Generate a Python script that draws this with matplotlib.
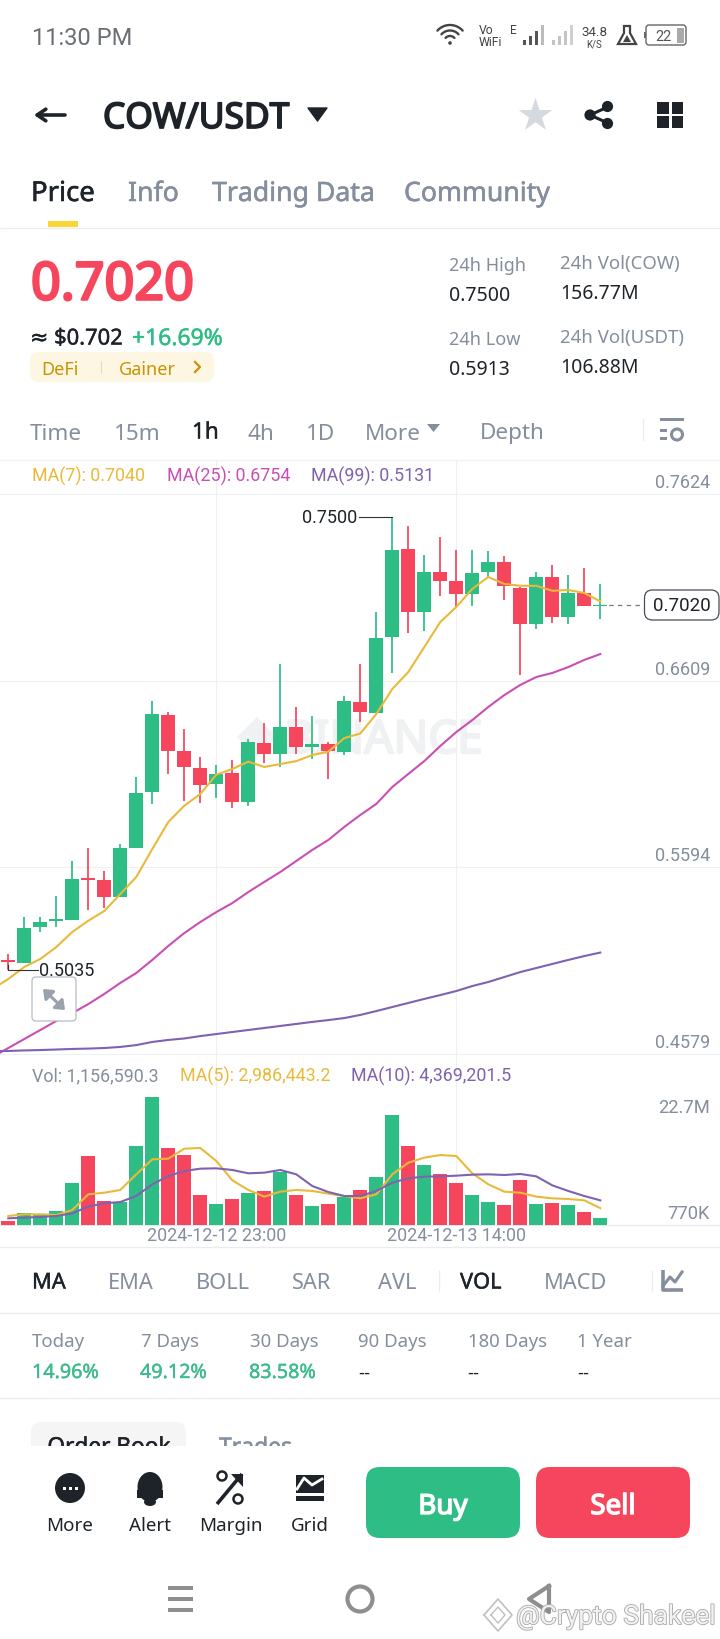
import numpy as np
import matplotlib
matplotlib.use('Agg')
import matplotlib.pyplot as plt
from matplotlib.patches import FancyBboxPatch, Rectangle, Polygon, Circle, Ellipse
import matplotlib.patheffects as pe

# ---------- data ----------
opens = [.5091,.5074,.5270,.5301,.5308,.5536,.5524,.5431,.5701,.6002,.6424,.6228,.6134,.6046,.6106,.5951,.6272,.6210,.6356,
         .6247,.6263,.6223,.6495,.6433,.6845,.7323,.6984,.7200,.7151,.7079,.7198,.7256,.7113,.6917,.7173,.6954,.7087,.7017]
highs = [.5123,.5326,.5324,.5439,.5630,.5700,.5574,.5721,.6087,.6497,.6437,.6345,.6193,.6151,.6180,.6294,.6379,.6698,.6468,
         .6417,.6274,.6524,.6698,.6981,.7500,.7450,.7292,.7390,.7321,.7321,.7316,.7285,.7118,.7200,.7238,.7182,.7220,.7133]
lows = [.5035,.5074,.5243,.5272,.5308,.5364,.5373,.5431,.5698,.5939,.6103,.5957,.5944,.5971,.5915,.5926,.6163,.6141,.6209,
        .6185,.6075,.6203,.6383,.6433,.6649,.6870,.6881,.7071,.7011,.7017,.7173,.7049,.6638,.6890,.6923,.6917,.7015,.6944]
closes = [.5080,.5266,.5299,.5312,.5531,.5526,.5431,.5698,.5998,.6430,.6228,.6141,.6044,.6103,.5951,.6276,.6210,.6356,.6247,
          .6263,.6225,.6497,.6437,.6840,.7318,.6984,.7200,.7151,.7079,.7194,.7253,.7122,.6917,.7171,.6957,.7086,.7015,.7020]
# moving averages: first value belongs to the candle just left of the visible window
ma7 = [.4933,.4987,.5053,.5096,.5161,.5243,.5304,.5357,.5449,.5542,.5694,.5841,.5929,.5993,.6098,.6129,.6169,.6140,.6156,
       .6172,.6205,.6223,.6297,.6322,.6428,.6564,.6656,.6792,.6928,.7010,.7108,.7173,.7135,.7125,.7125,.7098,.7102,.7086,.7040]
ma25 = [.4563,.4612,.4661,.4710,.4759,.4802,.4851,.4906,.4966,.5020,.5091,.5167,.5237,.5297,.5351,.5400,.5460,.5515,.5569,.5629,
        .5689,.5743,.5814,.5879,.5939,.6031,.6102,.6172,.6254,.6330,.6395,.6466,.6531,.6586,.6629,.6651,.6683,.6722,.6754]
ma99 = [.4596,.4596,.4599,.4601,.4604,.4607,.4609,.4612,.4618,.4628,.4645,.4656,.4664,.4677,.4688,.4699,.4710,.4721,.4732,.4743,
        .4754,.4764,.4775,.4792,.4813,.4835,.4857,.4879,.4900,.4922,.4949,.4971,.4998,.5025,.5047,.5069,.5091,.5112,.5131]
volumes = [.71,2.18,1.71,2.48,7.38,12.27,4.25,4.07,14.04,22.7,13.63,12.33,5.25,3.72,4.66,5.60,5.96,9.44,5.25,
           3.42,3.66,4.96,6.20,8.44,19.53,13.92,10.62,9.09,7.43,5.31,4.13,3.60,7.91,3.72,3.95,3.48,2.36,1.157]
vol_ma5 = [1.59,1.89,1.89,1.77,2.66,5.43,5.72,6.20,8.97,11.62,11.74,13.51,13.63,11.33,7.91,6.20,5.02,5.90,6.20,
           6.02,5.55,5.13,4.72,5.43,8.97,11.03,11.92,12.39,12.21,9.15,7.20,5.90,5.72,5.02,4.72,4.60,4.37,2.986]
vol_ma10 = [1.18,1.30,1.42,1.59,2.07,3.25,3.84,4.07,5.13,7.20,8.67,9.56,9.97,10.03,9.74,9.15,9.26,9.74,8.97,
            6.90,5.84,5.13,5.13,6.02,7.49,8.26,8.56,8.61,8.73,8.91,8.97,8.85,9.03,8.61,7.02,6.02,5.13,4.369]
price_ticks = [.7624,.6609,.5594,.4579]
price_labels = ['0.7624','0.6609','0.5594','0.4579']
date_idx = [13,28]
date_labels = ['2024-12-12 23:00','2024-12-13 14:00']

GREEN='#2EBD85'; RED='#F6465D'; GRID='#EEF0F2'; GREY='#848E9C'; DARK='#1E2329'
YEL='#E9B93A'; PINK='#C94FB4'; PUR='#7F62B0'
SANS='Noto Sans'; ROB='Roboto'

W,H=720,1640
fig=plt.figure(figsize=(W/100,H/100),dpi=100,facecolor='white')
def rect(x0,y0,x1,y1):
    return [x0/W,1-y1/H,(x1-x0)/W,(y1-y0)/H]

# index <-> pixel scale
xlim=(-8.3/16,(720-8.3)/16)
pp=0.1015/186.7
def price_at(y): return .7624-(y-495)*pp

# watermark, behind the marks
wm=fig.text(284/W,1-742/H,'BINANCE',fontsize=33,color='#F0F1F2',family='Noto Sans',va='center',zorder=0)
wm.set_path_effects([pe.withStroke(linewidth=1.6,foreground='#F0F1F2')])
fig.add_artist(Polygon([(257/W,1-718/H),(277/W,1-738/H),(257/W,1-758/H),(237/W,1-738/H)],closed=True,fc='#F0F1F2',ec='none',transform=fig.transFigure,zorder=0))

# ---------- price panel ----------
ax=fig.add_axes(rect(0,461,720,1060),zorder=1)
ax.patch.set_alpha(0)
ax.set_xlim(*xlim); ax.set_ylim(price_at(1060),price_at(461))
for s in ax.spines.values(): s.set_visible(False)
ax.set_xticks(date_idx); ax.set_yticks(price_ticks)
ax.tick_params(length=0,labelbottom=False,labelleft=False)
ax.grid(True,color=GRID,lw=0.8,zorder=0)
ax.set_axisbelow(True)
idx=np.arange(len(closes))
cols=[GREEN if c>=o else RED for o,c in zip(opens,closes)]
ax.vlines(idx,lows,highs,colors=cols,lw=1.25,zorder=3)
bodies=[max(abs(c-o),0.0006) for o,c in zip(opens,closes)]
ax.bar(idx,bodies,bottom=[min(o,c) for o,c in zip(opens,closes)],width=0.855,color=cols,zorder=3)
ax.plot(np.arange(len(ma7))-1,ma7,color=YEL,lw=1.5,zorder=4)
ax.plot(np.arange(len(ma25))-1,ma25,color=PINK,lw=1.5,zorder=4)
ax.plot(np.arange(len(ma99))-1,ma99,color=PUR,lw=1.5,zorder=4)
for p,l in zip(price_ticks,price_labels):
    ax.annotate(l,(1,p),xycoords=('axes fraction','data'),xytext=(-7.2,8.6),textcoords='offset points',
                ha='right',va='center',fontsize=13,color=GREY,family=ROB)
# high / low markers
ax.plot([21.9,24],[.7500,.7500],color='#333',lw=0.8,zorder=5)
ax.annotate('0.7500',(21.9,.7500),xytext=(-1,0),textcoords='offset points',ha='right',va='center',fontsize=13,color=DARK,family=ROB)
ax.plot([0,0,1.85],[.5061,.5035,.5035],color='#333',lw=0.8,zorder=5)
ax.annotate('0.5035',(1.85,.5035),xytext=(0.5,0),textcoords='offset points',ha='left',va='center',fontsize=13,color=DARK,family=ROB)
# last price dash
ax.plot([37,39.7],[closes[-1],closes[-1]],color='#6f7680',lw=0.9,ls=(0,(3.5,3.5)),zorder=2)

# ---------- volume panel ----------
av=fig.add_axes(rect(0,1055,720,1226),zorder=1)
av.patch.set_alpha(0)
av.set_xlim(*xlim); av.set_ylim(0,171*0.177)
for k,s in av.spines.items(): s.set_visible(k=='bottom')
av.spines['bottom'].set_color('#E6E8EA')
av.set_xticks(date_idx); av.set_xticklabels(date_labels,fontsize=12.85,color=GREY,family=ROB)
av.set_yticks([])
av.tick_params(length=0,pad=1)
av.grid(True,axis='x',color=GRID,lw=0.8); av.set_axisbelow(True)
av.bar(idx,volumes,width=0.855,color=cols,zorder=3)
av.plot(idx,vol_ma5,color=YEL,lw=1.5,zorder=4)
av.plot(idx,vol_ma10,color=PUR,lw=1.5,zorder=4)

# ---------- phone UI overlay (pixel coords) ----------
ui=fig.add_axes([0,0,1,1],zorder=2)
ui.set_xlim(0,W); ui.set_ylim(H,0); ui.axis('off'); ui.patch.set_alpha(0)
def T(x,y,s,size,color=DARK,weight='normal',ha='left',family=SANS,**k):
    if family==SANS and ha=='left':
        x-=1
    t=ui.text(x,y,s,fontsize=size,color=color,ha=ha,va='center',family=family,**k)
    extra={'bold':0.05,'medium':0.02}.get(weight)
    if extra:
        t.set_path_effects([pe.withStroke(linewidth=size*extra,foreground=color)])
    return t
def L(x,y,color='#EAECEF',lw=0.9,**k):
    ui.plot(x,y,color=color,lw=lw,solid_capstyle='butt',**k)
def RR(x0,y0,x1,y1,r,fc,ec='none',lw=0,z=1):
    ui.add_patch(FancyBboxPatch((x0+r,y0+r),x1-x0-2*r,y1-y0-2*r,boxstyle=f'round,pad={r},rounding_size={r}',fc=fc,ec=ec,lw=lw,zorder=z))

# status bar
T(32,38.5,'11:30 PM',17,'#6A6F75',family=ROB)
cx,cy=450,43
t=np.radians(np.linspace(222,318,30))
for r in (6,11.5,17):
    ui.plot(cx+r*np.cos(t),cy+r*np.sin(t),color='#444',lw=1.7,solid_capstyle='round')
ui.add_patch(Circle((cx,cy+1),1.8,fc='#444'))
T(479,31,'Vo',8.8,'#444',ha='left',family=ROB); T(479,43,'WiFi',8.8,'#444',family=ROB)
T(510,31,'E',8.5,'#444',family=ROB)
for x0,c0,c1 in ((523,'#555','#bbb'),(552,'#c4c4c4','#d0d0d0')):
    for i,(hh,c) in enumerate(zip((5,9,14,20),(c0,c0,c0,c1))):
        ui.add_patch(Rectangle((x0+i*6,46-hh),3.2,hh,fc=c,ec='none'))
T(594,33,'34.8',9.6,'#444',ha='center',family=ROB); T(594,44,'K/S',7,'#444',ha='center',family=ROB)
ui.add_patch(Polygon([(624,27),(630,27),(630,34),(636,45),(618,45),(624,34)],closed=True,fc='white',ec='#444',lw=1.6))
ui.add_patch(Polygon([(627,36),(631,43),(623,43)],closed=True,fc='#444',ec='none'))
RR(646,26,686,46,3,'white','#666',1.0)
ui.add_patch(Rectangle((643.5,33),2,6,fc='#666'))
ui.add_patch(Rectangle((677,28.5),7,15,fc='#aaa'))
T(664,37,'22',10.5,'#555',ha='center',family=ROB)

# header
ui.annotate('',xy=(34,116),xytext=(65,116),arrowprops=dict(arrowstyle='->,head_length=0.62,head_width=0.42',lw=2.6,color=DARK,shrinkA=0,shrinkB=0))
T(104,120,'COW/USDT',25.4,DARK,'bold')
ui.add_patch(Polygon([(308,109),(327,109),(317.5,122)],closed=True,fc=DARK,ec=DARK,lw=1,joinstyle='round'))
ui.scatter([535],[116],marker='*',s=650,color='#D5D9E0',linewidths=0,zorder=3)
for a,b in (((610,107),(590,116)),((590,116),(610,125))):
    ui.plot([a[0],b[0]],[a[1],b[1]],color=DARK,lw=2.2)
for c in ((607.5,107.5),(590,116),(607.5,124.5)):
    ui.add_patch(Circle(c,5.6,fc=DARK))
for x0 in (657,671.5):
    for y0 in (103,117):
        ui.add_patch(Rectangle((x0,y0),11.5,12,fc=DARK))

# tabs
T(32,195,'Price',19.8,DARK,'medium')
T(129,195,'Info',19.2,GREY,'medium'); T(213,195,'Trading Data',19.2,GREY,'medium'); T(405,195,'Community',19.2,GREY,'medium')
ui.add_patch(Rectangle((48,222),30,6,fc='#FCD535'))
L([0,720],[228.5,228.5])

# price block
T(32,287,'0.7020',37.5,RED,'bold')
T(30,340,'≈ $0.702',15.8,DARK,'medium',family=['Noto Sans','DejaVu Sans'])
T(133,340,'+16.69%',16.5,GREEN,'medium')
RR(30,353,214,383,9,'#FDF6E3')
T(42,370,'DeFi',13,'#C99400'); L([100.5,100.5],[362,374],'#E8DDB8',0.8); T(120,370,'Gainer',13,'#C99400')
ui.plot([195,200,195],[363,368,373],color='#C99400',lw=1.6)
T(450,266,'24h High',13,GREY); T(450,296,'0.7500',14,DARK)
T(450,340,'24h Low',13,GREY); T(450,370,'0.5913',14,DARK)
T(561,264,'24h Vol(COW)',13.4,GREY); T(561,294,'156.77M',14,DARK)
T(561,338,'24h Vol(USDT)',13.4,GREY); T(561,368,'106.88M',14,DARK)

# interval bar
for x,s,c in ((31,'Time',GREY),(115,'15m',GREY),(193,'1h',DARK),(249,'4h',GREY),(307,'1D',GREY),(366,'More',GREY),(481,'Depth',GREY)):
    T(x,434,s,16.2,c,'medium' if s=='1h' else 'normal')
ui.add_patch(Polygon([(427,425),(440,425),(433.5,433)],closed=True,fc=GREY,ec='none'))
L([643,643],[419,442],'#EAECEF',1)
ui.add_patch(Rectangle((660,419),24,3,fc=GREY))
ui.add_patch(Rectangle((660,430),7,3,fc=GREY)); ui.add_patch(Rectangle((660,438),7,3,fc=GREY))
ui.add_patch(Circle((677,435.5),5.5,fc='white',ec=GREY,lw=2.2))
L([0,720],[461,461],'#EEF0F2')

# MA captions
T(32,476,'MA(7): 0.7040',12.85,YEL,family=ROB); T(167,476,'MA(25): 0.6754',12.85,PINK,family=ROB); T(311,476,'MA(99): 0.5131',12.85,PUR,family=ROB)
RR(644.5,591,719,621,8,'white','#474D57',0.9,z=5)
T(681.5,606,'0.7020',13.5,DARK,ha='center',family=ROB,zorder=6)
# expand button
RR(32,978,76,1022,4,'white','#B7BDC6',0.9)
ui.annotate('',xy=(43,990),xytext=(65,1011),arrowprops=dict(arrowstyle='<|-|>,head_length=0.5,head_width=0.4',lw=2.2,color='#9AA2AD',shrinkA=0,shrinkB=0))

# vol captions
T(32,1076,'Vol: 1,156,590.3',12.85,GREY,family=ROB); T(180,1076,'MA(5): 2,986,443.2',12.85,YEL,family=ROB); T(351,1076,'MA(10): 4,369,201.5',12.85,PUR,family=ROB)
T(710,1108,'22.7M',13.2,GREY,ha='right',family=ROB); T(710,1214,'770K',13.2,GREY,ha='right',family=ROB)
L([0,720],[1247.5,1247.5])

# indicator tabs
for x,s,c in ((33,'MA',DARK),(109,'EMA',GREY),(196.5,'BOLL',GREY),(293,'SAR',GREY),(379,'AVL',GREY),(461,'VOL',DARK),(545,'MACD',GREY)):
    T(x,1284,s,15.7,c,'medium' if c==DARK else 'normal')
L([439,439],[1271,1292],'#EAECEF',1); L([652,652],[1271,1292],'#EAECEF',1)
L([663,663,683],[1271,1291,1291],GREY,2.6)
ui.plot([663,670,675,682],[1287,1278,1283,1273],color=GREY,lw=2.2)
L([0,720],[1314,1314])

# performance
for x,s in ((33,'Today'),(142,'7 Days'),(251,'30 Days'),(359,'90 Days'),(469,'180 Days'),(578,'1 Year')):
    T(x,1342,s,13.4,GREY)
for x,s in ((33,'14.96%'),(141,'49.12%'),(250,'83.58%')):
    T(x,1374,s,14.2,'#3DBB8C','medium')
for x in (359.5,468,578):
    T(x,1374,'--',13.4,DARK)
L([0,720],[1399,1399])

# order-book tabs clipped by the bottom bar
RR(31,1423,186,1470,10,'#F5F5F5')
T(109,1449,'Order Book',16.3,DARK,'medium',ha='center',zorder=2)
T(220,1449,'Trades',16.5,GREY,'medium',zorder=2)
ui.add_patch(Rectangle((0,1447),720,193,fc='white',ec='none',zorder=3))

# bottom actions
ZB=4
ui.add_patch(Circle((70,1489),15,fc=DARK,zorder=ZB))
for dx in (-6,0,6):
    ui.add_patch(Rectangle((70+dx-1.5,1487.5),3,3,fc='white',zorder=ZB+1))
ui.add_patch(Ellipse((150,1488),25,30,fc=DARK,zorder=ZB))
ui.add_patch(Rectangle((137,1491),26,8,fc=DARK,zorder=ZB))
ui.add_patch(Ellipse((150,1503),12,8,fc=DARK,zorder=ZB))
L([217,242],[1505,1475],DARK,2.6,zorder=ZB)
ui.add_patch(Polygon([(231,1475),(243,1475),(243,1488)],closed=True,fc=DARK,zorder=ZB))
ui.add_patch(Circle((222,1477),4.5,fc='white',ec=DARK,lw=1.8,zorder=ZB)); ui.add_patch(Circle((238,1500),4.5,fc='white',ec=DARK,lw=1.8,zorder=ZB))
ui.add_patch(Rectangle((296,1476),28,18,fc=DARK,zorder=ZB))
ui.plot([297,304,312,322],[1490,1479,1486,1480],color='white',lw=2,zorder=ZB+1)
ui.add_patch(Rectangle((296,1497),28,5,fc=DARK,zorder=ZB))
for x,s in ((70,'More'),(150,'Alert'),(230.5,'Margin'),(310,'Grid')):
    T(x,1526,s,13.5,DARK,ha='center',zorder=ZB)
RR(366,1468,520,1539,14,GREEN,z=ZB); RR(536,1468,690,1539,14,RED,z=ZB)
T(443,1508,'Buy',20,'white','bold',ha='center',zorder=ZB+1); T(613,1508,'Sell',20,'white','bold',ha='center',zorder=ZB+1)

# android nav
for y in (1589,1600,1611):
    ui.add_patch(Rectangle((167.5,y-2),25.5,4,fc='#8E8E8E',zorder=ZB))
ui.add_patch(Ellipse((360,1600),25,25,fc='white',ec='#8E8E8E',lw=3,zorder=ZB))
ui.plot([549,529,549,549],[1587,1600,1613,1587],color='#8E8E8E',lw=3,zorder=ZB)
wmk=T(516,1618,'@Crypto Shakeel',19,'#F2F2F2',family=ROB,zorder=ZB+2)
wmk.set_path_effects([pe.withStroke(linewidth=1.2,foreground='#A8A8A8')])
ui.plot([484,498,512,498,484],[1616,1600,1616,1632,1616],color='#C0C0C0',lw=1.2,zorder=ZB+2)
ui.plot([491,498,505,498,491],[1616,1608,1616,1624,1616],color='#C0C0C0',lw=1,zorder=ZB+2)

fig.savefig('out.png',dpi=100,facecolor='white')
